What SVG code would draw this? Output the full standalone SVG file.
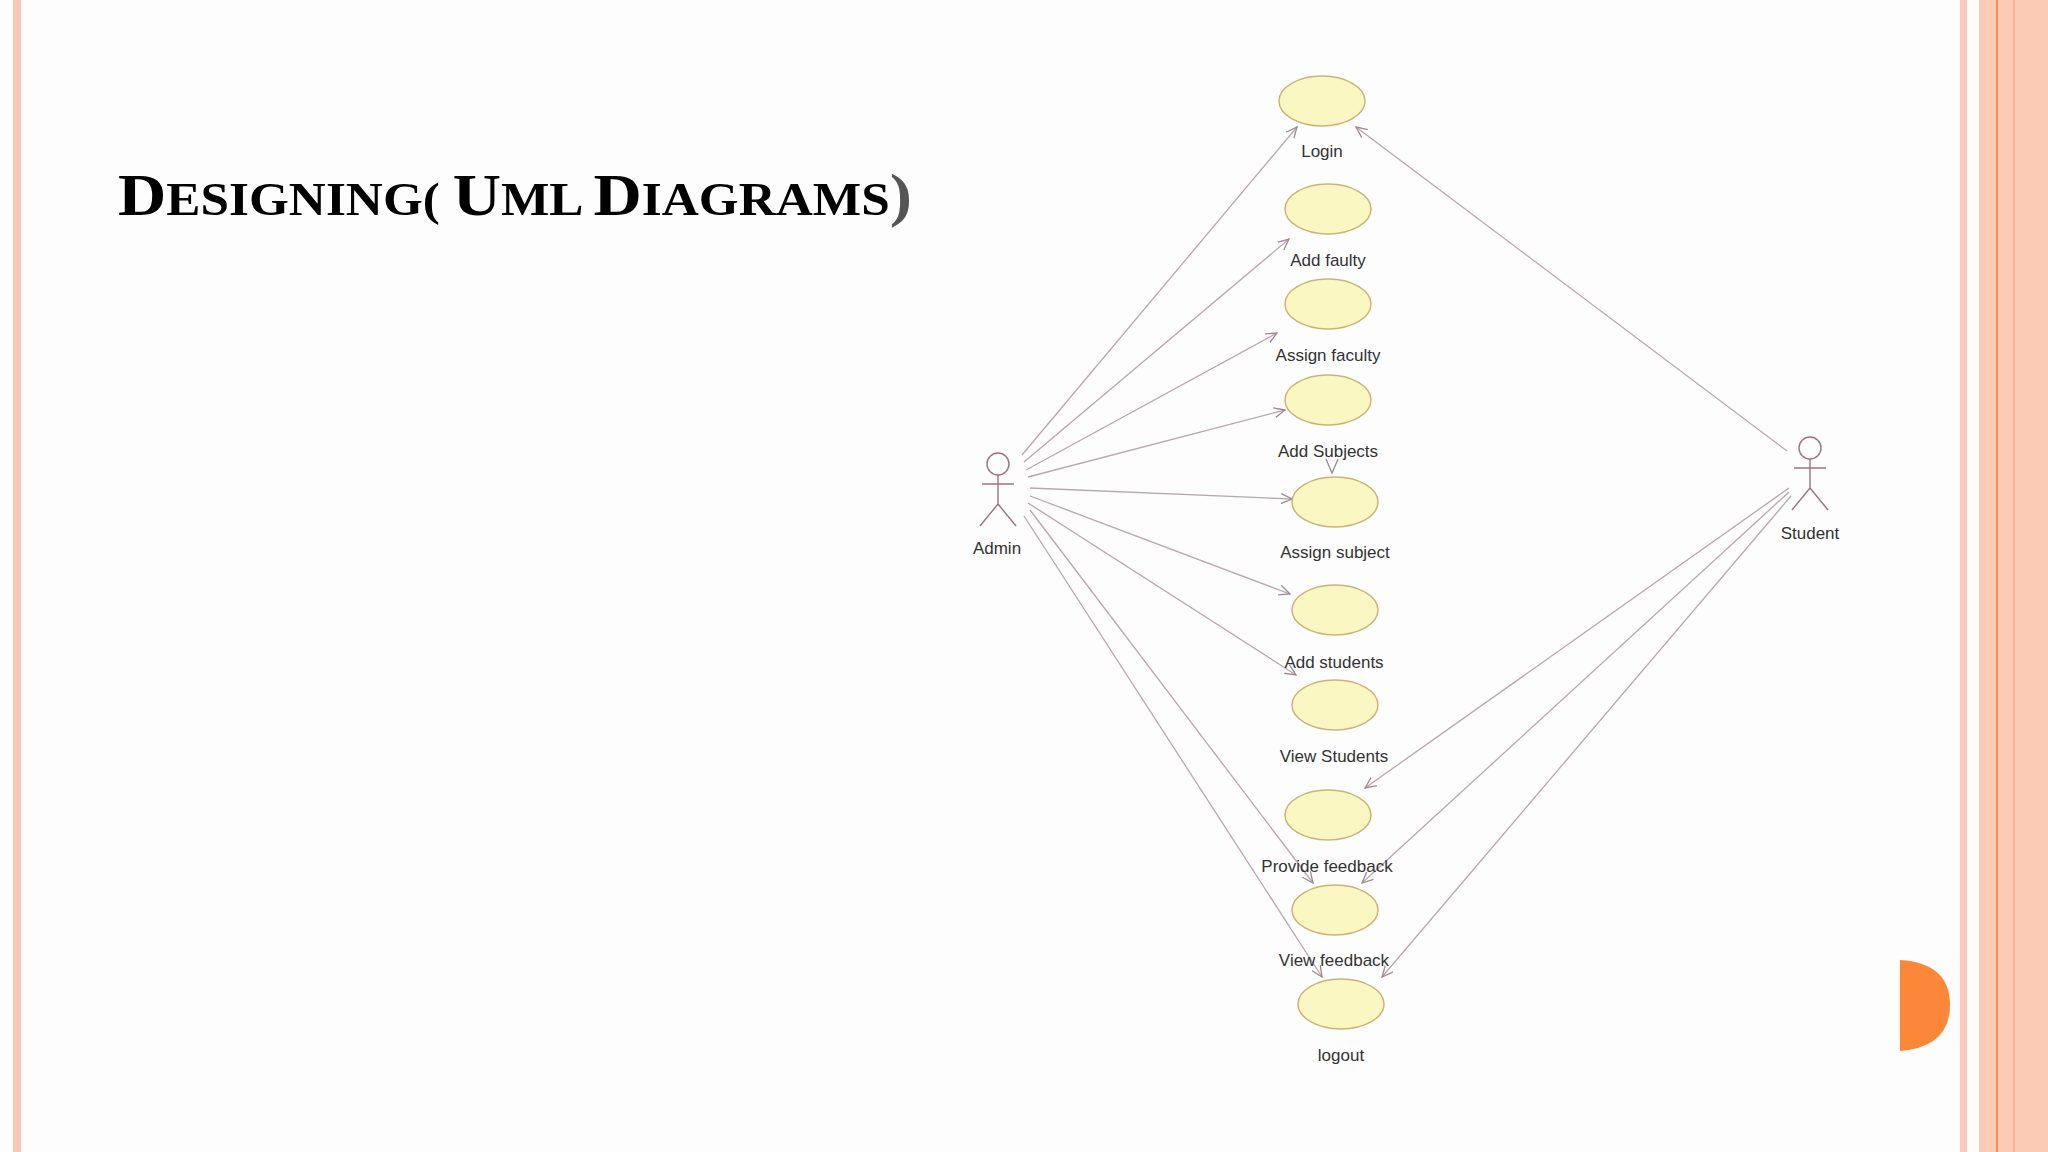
<svg xmlns="http://www.w3.org/2000/svg" width="2048" height="1152" viewBox="0 0 2048 1152">
<defs>
<marker id="ah" viewBox="0 0 12 12" refX="11" refY="6" markerWidth="12" markerHeight="12" markerUnits="userSpaceOnUse" orient="auto">
<path d="M0,1 L11,6 L0,11" fill="none" stroke="#9c8a92" stroke-width="1.3"/>
</marker>
<style>
.uc{fill:#fbf7c2;stroke:#c9b578;stroke-width:1.5}
.lb{font-family:"Liberation Sans",Arial,sans-serif;font-size:17px;fill:#333;text-anchor:middle}
.cn line{stroke:#b9a6ae;stroke-width:1.3;marker-end:url(#ah)}
.act{fill:none;stroke:#a07080;stroke-width:1.4}
</style>
</defs>
<rect width="2048" height="1152" fill="#fdfdfd"/>
<rect x="13" y="0" width="8" height="1152" fill="#f9c8b6"/>
<rect x="1960" y="0" width="7" height="1152" fill="#f9c8b6"/>
<rect x="1979" y="0" width="69" height="1152" fill="#fbcbb6"/>
<rect x="1996" y="0" width="2" height="1152" fill="#f5904f"/>
<rect x="2013" y="0" width="2" height="1152" fill="#f4b590"/>
<path d="M1900,960 Q1950,963 1950,1005 Q1950,1047 1900,1051 Z" fill="#fd8739"/>
<text x="118" y="215" font-family="'Liberation Serif','Times New Roman',serif" font-weight="bold" fill="#000" textLength="794" lengthAdjust="spacingAndGlyphs"><tspan font-size="60">D</tspan><tspan font-size="46">ESIGNING( </tspan><tspan font-size="60">U</tspan><tspan font-size="46">ML </tspan><tspan font-size="60">D</tspan><tspan font-size="46">IAGRAMS</tspan><tspan font-size="60" fill="#555">)</tspan></text>
<g class="cn" id="connectors">
<line x1="1022" y1="455" x2="1297" y2="127"/>
<line x1="1024" y1="462" x2="1289" y2="239"/>
<line x1="1026" y1="470" x2="1277" y2="333"/>
<line x1="1028" y1="477" x2="1285" y2="410"/>
<line x1="1030" y1="488" x2="1292" y2="499"/>
<line x1="1030" y1="496" x2="1290" y2="594"/>
<line x1="1028" y1="503" x2="1296" y2="675"/>
<line x1="1030" y1="510" x2="1313" y2="883"/>
<line x1="1024" y1="516" x2="1322" y2="977"/>
<line x1="1787" y1="451" x2="1356" y2="127"/>
<line x1="1789" y1="488" x2="1365" y2="788"/>
<line x1="1789" y1="492" x2="1362" y2="883"/>
<line x1="1791" y1="496" x2="1382" y2="977"/>
<polyline points="1326,459 1332,473 1338,459" fill="none" stroke="#9c8a92" stroke-width="1.3" style="marker-end:none"/>
</g>
<g id="admin"><circle class="act" cx="998" cy="464" r="11"/><path class="act" d="M998,475 V504 M982,484 H1014 M998,504 L980,526 M998,504 L1016,526"/><text class="lb" x="997" y="554">Admin</text></g>
<g id="student"><circle class="act" cx="1810" cy="448" r="11"/><path class="act" d="M1810,459 V488 M1794,468 H1826 M1810,488 L1792,510 M1810,488 L1828,510"/><text class="lb" x="1810" y="539">Student</text></g>
<g id="login"><ellipse class="uc" cx="1322" cy="101" rx="43" ry="25"/><text class="lb" x="1322" y="157">Login</text></g>
<g id="addfaulty"><ellipse class="uc" cx="1328" cy="209" rx="43" ry="25"/><text class="lb" x="1328" y="266">Add faulty</text></g>
<g id="assignfaculty"><ellipse class="uc" cx="1328" cy="304" rx="43" ry="25"/><text class="lb" x="1328" y="361">Assign faculty</text></g>
<g id="addsubjects"><ellipse class="uc" cx="1328" cy="400" rx="43" ry="25"/><text class="lb" x="1328" y="457">Add Subjects</text></g>
<g id="assignsubject"><ellipse class="uc" cx="1335" cy="502" rx="43" ry="25"/><text class="lb" x="1335" y="558">Assign subject</text></g>
<g id="addstudents"><ellipse class="uc" cx="1335" cy="610" rx="43" ry="25"/><text class="lb" x="1334" y="668">Add students</text></g>
<g id="viewstudents"><ellipse class="uc" cx="1335" cy="705" rx="43" ry="25"/><text class="lb" x="1334" y="762">View Students</text></g>
<g id="providefeedback"><ellipse class="uc" cx="1328" cy="815" rx="43" ry="25"/><text class="lb" x="1327" y="872">Provide feedback</text></g>
<g id="viewfeedback"><ellipse class="uc" cx="1335" cy="910" rx="43" ry="25"/><text class="lb" x="1334" y="966">View feedback</text></g>
<g id="logout"><ellipse class="uc" cx="1341" cy="1004" rx="43" ry="25"/><text class="lb" x="1341" y="1061">logout</text></g>
</svg>
